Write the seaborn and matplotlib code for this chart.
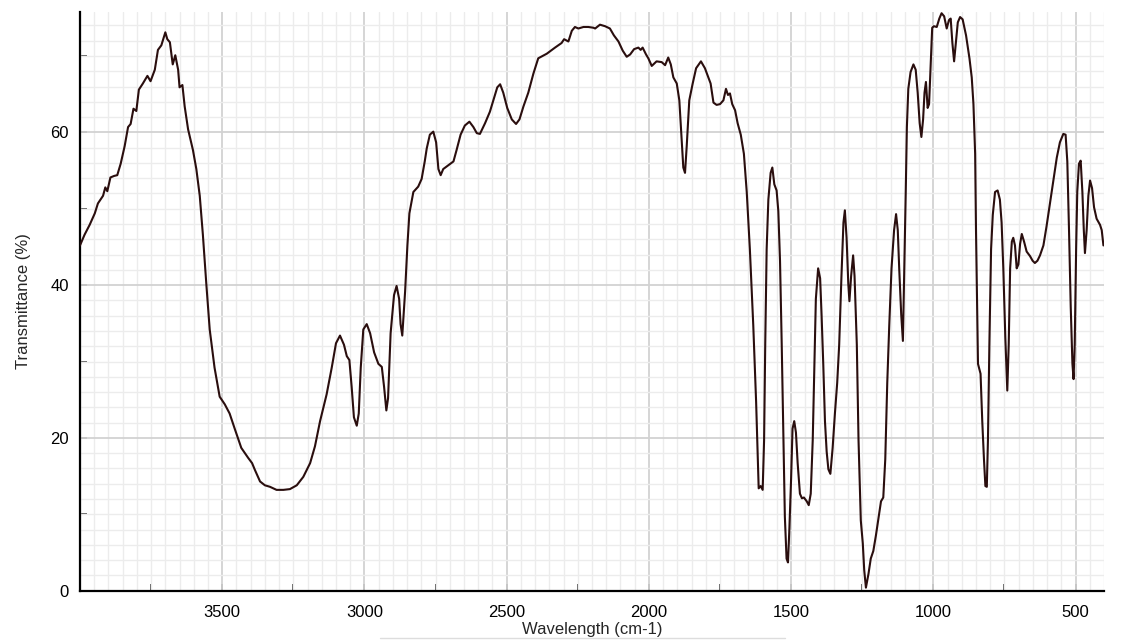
import matplotlib

matplotlib.use("Agg")
import matplotlib.pyplot as plt
import numpy as np
import pandas as pd
import seaborn as sns
from matplotlib.lines import Line2D
from matplotlib.ticker import MultipleLocator

# spectrum
wavenumber = [
    4000, 3984, 3966, 3948, 3937, 3919, 3911, 3904, 3893, 3880, 3869, 3857, 3843, 3831,
    3822, 3812, 3802, 3793, 3779, 3763, 3752, 3737, 3726, 3714, 3700, 3693, 3684, 3674,
    3665, 3655, 3650, 3640, 3632, 3620, 3603, 3591, 3579, 3568, 3556, 3544, 3527, 3509,
    3491, 3474, 3456, 3433, 3409, 3395, 3385, 3367, 3350, 3332, 3309, 3285, 3262, 3238,
    3215, 3191, 3174, 3156, 3133, 3115, 3100, 3086, 3072, 3062, 3053, 3045, 3037, 3027,
    3020, 3013, 3004, 2992, 2980, 2966, 2951, 2939, 2931, 2923, 2917, 2908, 2896, 2887,
    2878, 2873, 2867, 2857, 2849, 2842, 2828, 2811, 2799, 2788, 2781, 2770, 2758, 2748,
    2740, 2732, 2723, 2705, 2687, 2676, 2662, 2647, 2631, 2617, 2605, 2594, 2576, 2559,
    2545, 2533, 2523, 2512, 2498, 2482, 2467, 2455, 2441, 2424, 2406, 2389, 2359, 2330,
    2307, 2298, 2283, 2271, 2260, 2248, 2230, 2213, 2195, 2189, 2172, 2154, 2137, 2123,
    2107, 2092, 2078, 2066, 2052, 2037, 2029, 2022, 2010, 2002, 1990, 1973, 1955, 1943,
    1932, 1923, 1914, 1902, 1893, 1886, 1879, 1873, 1867, 1858, 1846, 1834, 1817, 1803,
    1791, 1783, 1773, 1762, 1750, 1738, 1729, 1722, 1715, 1707, 1697, 1688, 1677, 1666,
    1656, 1645, 1633, 1623, 1617, 1614, 1607, 1600, 1595, 1591, 1586, 1580, 1572, 1566,
    1559, 1551, 1545, 1539, 1533, 1527, 1522, 1516, 1511, 1506, 1500, 1495, 1489, 1483,
    1477, 1469, 1462, 1455, 1445, 1438, 1431, 1424, 1418, 1413, 1405, 1398, 1393, 1387,
    1381, 1375, 1369, 1362, 1354, 1346, 1338, 1331, 1323, 1316, 1311, 1305, 1299, 1295,
    1289, 1282, 1277, 1269, 1263, 1255, 1248, 1243, 1237, 1228, 1220, 1211, 1202, 1192,
    1184, 1176, 1169, 1162, 1155, 1147, 1138, 1131, 1125, 1120, 1113, 1107, 1102, 1097,
    1093, 1088, 1080, 1070, 1062, 1055, 1048, 1042, 1036, 1031, 1026, 1020, 1015, 1009,
    1004, 998, 988, 979, 971, 962, 953, 945, 939, 933, 927, 921, 914, 906,
    897, 885, 873, 865, 859, 853, 850, 846, 843, 834, 828, 822, 817, 812,
    808, 803, 797, 791, 783, 774, 766, 760, 754, 747, 740, 735, 730, 724,
    719, 713, 707, 701, 695, 689, 681, 672, 660, 651, 643, 634, 625, 613,
    602, 590, 578, 566, 555, 543, 535, 529, 523, 517, 511, 507, 503, 498,
    494, 488, 482, 476, 471, 467, 461, 455, 449, 442, 435, 426, 414, 408,
    402,
]
transmittance = [
    45.2, 46.6, 47.9, 49.4, 50.7, 51.7, 52.8, 52.3, 54.1, 54.3, 54.4, 55.9, 58.2, 60.7,
    61.1, 63.1, 62.8, 65.6, 66.4, 67.4, 66.7, 68.2, 70.8, 71.4, 73.1, 72.2, 71.8, 68.9,
    70.1, 68.2, 65.9, 66.2, 63.4, 60.4, 57.7, 55.2, 51.7, 46.6, 40.2, 34.2, 29.2, 25.4,
    24.4, 23.2, 21.2, 18.7, 17.4, 16.7, 15.8, 14.3, 13.8, 13.6, 13.2, 13.2, 13.3, 13.8,
    14.9, 16.7, 18.9, 22.2, 25.7, 29.2, 32.4, 33.4, 32.2, 30.7, 30.2, 26.7, 22.7, 21.6,
    23.2, 29.2, 34.2, 34.9, 33.7, 31.2, 29.7, 29.3, 26.7, 23.6, 25.2, 33.7, 38.7, 39.9,
    38.2, 34.9, 33.4, 39.2, 45.2, 49.4, 52.2, 52.9, 53.9, 56.2, 57.9, 59.7, 60.1, 58.7,
    55.2, 54.4, 55.2, 55.7, 56.2, 57.7, 59.7, 60.9, 61.4, 60.7, 59.9, 59.8, 61.2, 62.7,
    64.4, 65.9, 66.3, 65.2, 63.2, 61.7, 61.1, 61.7, 63.4, 65.2, 67.7, 69.7, 70.3, 71.1,
    71.7, 72.2, 71.9, 73.3, 73.8, 73.6, 73.8, 73.8, 73.7, 73.6, 74.1, 73.9, 73.6, 72.7,
    71.9, 70.7, 69.9, 70.2, 70.9, 71.1, 70.8, 71.1, 70.2, 69.7, 68.7, 69.3, 69.2, 68.8,
    69.8, 68.9, 67.2, 66.4, 64.2, 59.7, 55.4, 54.7, 58.2, 64.2, 66.4, 68.4, 69.3, 68.4,
    67.2, 66.4, 63.9, 63.6, 63.7, 64.2, 65.7, 64.9, 65.1, 63.7, 62.9, 61.2, 59.7, 57.2,
    52.2, 44.7, 34.7, 24.7, 17.2, 13.4, 13.7, 13.2, 19.7, 32.2, 44.7, 51.2, 54.7, 55.4,
    53.2, 52.4, 49.7, 43.2, 32.2, 19.7, 9.7, 4.2, 3.7, 8.2, 14.7, 21.2, 22.2, 20.7,
    16.7, 12.7, 12.1, 12.2, 11.7, 11.2, 12.7, 19.7, 29.7, 38.2, 42.2, 40.9, 36.2, 29.7,
    22.2, 18.2, 15.9, 15.3, 18.7, 23.2, 27.2, 32.2, 41.2, 48.2, 49.8, 46.2, 40.2, 37.9,
    41.2, 43.9, 41.2, 32.2, 19.7, 9.2, 6.2, 2.7, 0.4, 2.2, 4.2, 5.2, 7.2, 9.7,
    11.7, 12.2, 17.2, 27.2, 34.7, 42.2, 47.2, 49.3, 47.2, 42.2, 36.2, 32.7, 42.2, 52.2,
    60.7, 65.7, 67.9, 68.9, 68.2, 65.2, 61.2, 59.4, 61.7, 65.2, 66.6, 63.2, 63.7, 69.2,
    73.7, 73.9, 73.8, 74.9, 75.6, 75.2, 73.6, 74.7, 74.9, 71.7, 69.3, 71.7, 74.4, 75.1,
    74.8, 72.7, 69.7, 67.2, 63.7, 57.2, 47.2, 37.2, 29.7, 28.4, 22.2, 17.2, 13.7, 13.6,
    19.7, 32.2, 44.7, 49.2, 52.2, 52.4, 51.2, 48.2, 42.2, 33.2, 26.2, 32.2, 42.2, 45.7,
    46.2, 45.2, 42.2, 42.7, 45.4, 46.7, 45.7, 44.4, 43.8, 43.2, 42.9, 43.2, 43.9, 45.2,
    47.7, 50.7, 53.7, 56.7, 58.7, 59.8, 59.7, 56.2, 47.2, 37.2, 29.7, 27.7, 32.2, 44.7,
    52.2, 55.9, 56.3, 52.2, 47.2, 44.2, 47.2, 51.7, 53.7, 52.7, 50.2, 48.7, 47.9, 47.2,
    45.2,
]
x_ticks = [500, 1000, 1500, 2000, 2500, 3000, 3500]

sns.set_style("white")
plt.rcParams["font.family"] = ["Liberation Sans", "DejaVu Sans"]

df = pd.DataFrame({"wn": wavenumber, "T": transmittance})

fig = plt.figure(figsize=(11.23, 6.41), dpi=100)
ax = fig.add_axes([80 / 1123, 50.3 / 641, 1024 / 1123, 579 / 641])

sns.lineplot(data=df, x="wn", y="T", ax=ax, color="#2a0e0e", linewidth=1.5,
             estimator=None, sort=False, zorder=3)

ax.set_xlim(4000, 400)
ax.set_ylim(0, 75.8)

ax.set_xticks(x_ticks)
ax.xaxis.set_minor_locator(MultipleLocator(50))
ax.yaxis.set_major_locator(MultipleLocator(20))
ax.yaxis.set_minor_locator(MultipleLocator(2))

ax.grid(which="major", color="#d2d2d2", linewidth=1.3, zorder=0)
ax.grid(which="minor", color="#ececec", linewidth=1.0, zorder=0)
ax.set_axisbelow(True)

for s in ["top", "right"]:
    ax.spines[s].set_visible(False)
for s in ["left", "bottom"]:
    ax.spines[s].set_color("black")
    ax.spines[s].set_linewidth(1.6)

ax.tick_params(which="major", direction="in", length=7.5, width=1.2, colors="black",
               labelsize=12)
ax.tick_params(axis="x", which="major", pad=10)
ax.tick_params(axis="y", which="major", pad=8)
ax.tick_params(which="minor", direction="in", length=3, width=1.0, colors="black")

# medium ticks every 250 / 10
secx = ax.secondary_xaxis("bottom")
secx.xaxis.set_major_locator(MultipleLocator(250))
secx.tick_params(direction="in", length=5, width=1.1, labelbottom=False)
secx.spines["bottom"].set_visible(False)
secy = ax.secondary_yaxis("left")
secy.yaxis.set_major_locator(MultipleLocator(10))
secy.tick_params(direction="in", length=5, width=1.1, labelleft=False)
secy.spines["left"].set_visible(False)

ax.set_xlabel("Wavelength (cm-1)", fontsize=12, labelpad=2)
ax.set_ylabel("Transmittance (%)", fontsize=12, labelpad=14)

fig.add_artist(Line2D([380 / 1123, 785 / 1123], [3 / 641, 3 / 641], color="#dddddd", lw=1))

fig.savefig("out.png", dpi=100)
